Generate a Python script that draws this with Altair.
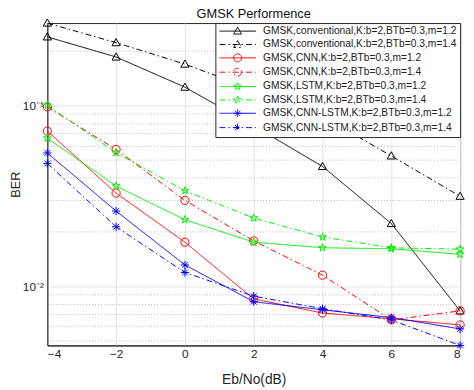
import altair as alt
import pandas as pd

# ---- data ----
ebno = [-4, -2, 0, 2, 4, 6, 8]
series_names = [
    "GMSK,conventional,K:b=2,BTb=0.3,m=1.2",
    "GMSK,conventional,K:b=2,BTb=0.3,m=1.4",
    "GMSK,CNN,K:b=2,BTb=0.3,m=1.2",
    "GMSK,CNN,K:b=2,BTb=0.3,m=1.4",
    "GMSK,LSTM,K:b=2,BTb=0.3,m=1.2",
    "GMSK,LSTM,K:b=2,BTb=0.3,m=1.4",
    "GMSK,CNN-LSTM,K:b=2,BTb=0.3,m=1.2",
    "GMSK,CNN-LSTM,K:b=2,BTb=0.3,m=1.4",
]
conv_12 = [0.239, 0.185, 0.126, 0.077, 0.0459, 0.0222, 0.0073]
conv_14 = [0.285, 0.222, 0.169, 0.122, 0.087, 0.0525, 0.0314]
cnn_12 = [0.072, 0.0327, 0.0175, 0.0085, 0.0071, 0.0066, 0.0061]
cnn_14 = [0.098, 0.057, 0.0298, 0.0178, 0.0115, 0.0065, 0.0073]
lstm_12 = [0.0658, 0.0358, 0.0233, 0.0175, 0.0163, 0.0161, 0.0150]
lstm_14 = [0.100, 0.0547, 0.0337, 0.0238, 0.0187, 0.0163, 0.0160]
cl_12 = [0.0545, 0.0260, 0.0131, 0.0082, 0.0074, 0.0067, 0.0058]
cl_14 = [0.0477, 0.0213, 0.0119, 0.0088, 0.0075, 0.0065, 0.0047]
all_values = [conv_12, conv_14, cnn_12, cnn_14, lstm_12, lstm_14, cl_12, cl_14]

x_ticks = [-4, -2, 0, 2, 4, 6, 8]
y_ticks = [0.005, 0.006, 0.007, 0.008, 0.009, 0.01,
           0.02, 0.03, 0.04, 0.05, 0.06, 0.07, 0.08, 0.09, 0.1, 0.2]

# ---- styles ----
colors = ["#000000", "#000000", "#ff0000", "#ff0000",
          "#00ee00", "#00ee00", "#0000ff", "#0000ff"]
solid = [1, 0]
dashdot = [6, 3, 1.5, 3]
dashes = [solid, dashdot] * 4


def tri(cx=0.0):
    return f"M{cx},-1L{cx+1},0.75L{cx-1},0.75Z"


def circ(cx=0.0):
    return f"M{cx+1},0A1,1,0,1,1,{cx-1},0A1,1,0,1,1,{cx+1},0Z"


def star(cx=0.0):
    pts = [(0, -1), (0.2245, -0.309), (0.951, -0.309), (0.363, 0.118),
           (0.588, 0.809), (0, 0.382), (-0.588, 0.809), (-0.363, 0.118),
           (-0.951, -0.309), (-0.2245, -0.309)]
    return "M" + "L".join(f"{cx+px:.3f},{py:.3f}" for px, py in pts) + "Z"


def aster(cx=0.0):
    return (f"M{cx},-1L{cx},1M{cx-1},0L{cx+1},0"
            f"M{cx-0.7},-0.7L{cx+0.7},0.7M{cx-0.7},0.7L{cx+0.7},-0.7")


marker_fns = [tri, tri, circ, circ, star, star, aster, aster]
LCX = 3.6
leg_paths = ["M-1,0L8.25,0" + f(LCX) for f in marker_fns]

rows = []
for name, vals in zip(series_names, all_values):
    for xv, yv in zip(ebno, vals):
        rows.append({"ebno": xv, "ber": yv, "series": name})
df = pd.DataFrame(rows)

font = "Liberation Sans"

x_enc = alt.X("ebno:Q",
              scale=alt.Scale(domain=[-4, 8], nice=False),
              axis=alt.Axis(values=x_ticks, title="Eb/No(dB)", format="d",
                            gridColor="#e3e3e3", ticks=False, labelPadding=3,
                            titlePadding=14))
y_enc = alt.Y("ber:Q",
              scale=alt.Scale(type="log", domain=[0.0047, 0.285], nice=False),
              axis=alt.Axis(values=y_ticks, title="BER", ticks=False,
                            labelExpr="datum.value == 0.1 ? '10⁻¹' : (datum.value == 0.01 ? '10⁻²' : '')",
                            gridDash={"expr": "(datum.value == 0.1 || datum.value == 0.01) ? [] : [1,2]"},
                            gridColor={"expr": "(datum.value == 0.1 || datum.value == 0.01) ? '#e3e3e3' : '#b8b8b8'"},
                            labelPadding=4, titlePadding=0, titleFontSize=13))

leg = alt.Legend(
    title=None, orient="top-right", offset=0,
    fillColor="white", strokeColor="#262626",
    padding=3, rowPadding=1.6, symbolSize=64, symbolStrokeWidth=1,
    labelOffset=35, labelFontSize=10.4, labelFont=font,
    labelColor="#222222", labelLimit=400,
)

base = alt.Chart(df)

lines = base.mark_line(strokeWidth=1, clip=True).encode(
    x=x_enc, y=y_enc,
    stroke=alt.Stroke("series:N", scale=alt.Scale(domain=series_names, range=colors),
                      legend=None),
    strokeDash=alt.StrokeDash("series:N",
                              scale=alt.Scale(domain=series_names, range=dashes),
                              legend=None),
    detail="series:N",
)

# one point layer per marker type
point_layers = []
for i in range(0, 8, 2):
    pair = [series_names[i], series_names[i + 1]]
    point_layers.append(
        base.transform_filter(alt.FieldOneOfPredicate(field="series", oneOf=pair))
        .mark_point(filled=False, strokeWidth=1, size=70, opacity=1,
                    shape=marker_fns[i]())
        .encode(x=x_enc, y=y_enc,
                stroke=alt.Stroke("series:N",
                                  scale=alt.Scale(domain=series_names, range=colors),
                                  legend=None))
    )

# legend carrier: no visible marks, only provides the legend entries
carrier = base.transform_filter("false").mark_point(
    filled=False, strokeWidth=1, size=64, opacity=1).encode(
    x=x_enc, y=y_enc,
    color=alt.Color("series:N", sort=series_names,
                    scale=alt.Scale(domain=series_names, range=colors), legend=leg),
    shape=alt.Shape("series:N", sort=series_names,
                    scale=alt.Scale(domain=series_names, range=leg_paths), legend=leg),
    strokeDash=alt.StrokeDash("series:N", sort=series_names,
                              scale=alt.Scale(domain=series_names, range=dashes),
                              legend=leg),
)

chart = alt.layer(lines, *point_layers, carrier).resolve_scale(
    color="independent", shape="independent", strokeDash="independent",
    stroke="independent"
).properties(
    width=420, height=328,
    title=alt.Title("GMSK Performence", fontSize=13, fontWeight="normal",
                    font=font, offset=0, dy=4, color="#111111"),
    autosize=alt.AutoSizeParams(type="none"),
    padding={"left": 40, "top": 12, "right": 6, "bottom": 40},
).configure_view(
    stroke="#262626", strokeWidth=1
).configure_axis(
    labelFont=font, titleFont=font, labelFontSize=12, titleFontSize=14,
    titleFontWeight="normal", labelColor="#262626", titleColor="#262626",
    domainColor="#262626",
)

chart.save("out.html", embed_options={"renderer": "svg", "actions": False})
